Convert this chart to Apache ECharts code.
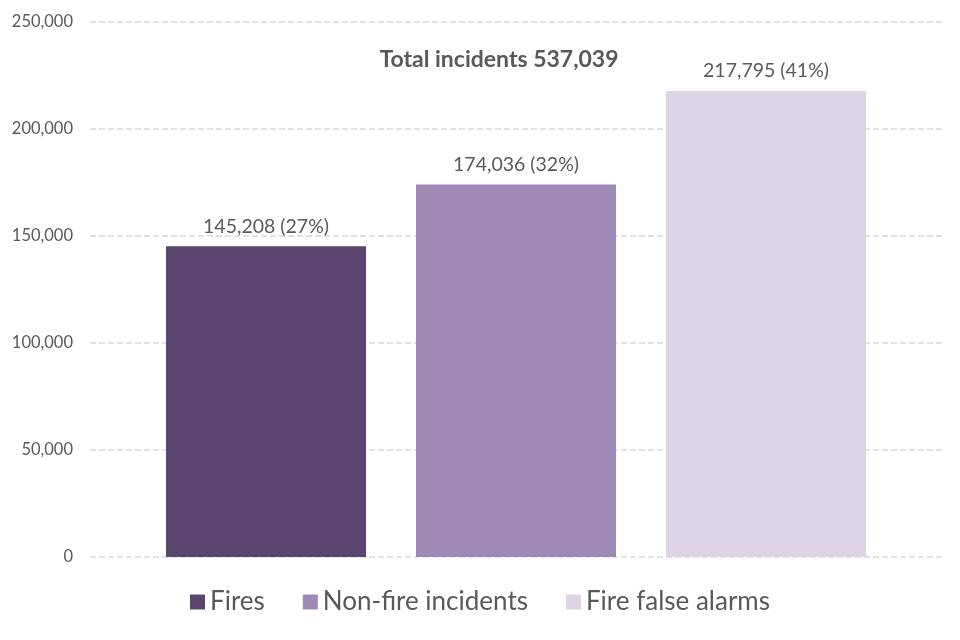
<!DOCTYPE html>
<html>
<head>
<meta charset="utf-8">
<script src="https://cdn.jsdelivr.net/npm/echarts@6/dist/echarts.min.js"></script>
<style>
html,body{margin:0;padding:0;background:#fff;}
#chart{width:960px;height:640px;}
</style>
</head>
<body>
<div id="chart"></div>
<script>
var seriesNames = ['Fires', 'Non-fire incidents', 'Fire false alarms'];
var seriesValues = [145208, 174036, 217795];
var seriesPercents = [27, 32, 41];
var seriesColors = ['#5a456e', '#9f89b7', '#ddd5e7'];
var totalLabel = 'Total incidents 537,039';
var yTicks = [0, 50000, 100000, 150000, 200000, 250000];

var FONT = 'Lato, "Open Sans", sans-serif';
var chart = echarts.init(document.getElementById('chart'));

function fmt(n) { return n.toLocaleString('en-GB'); }

var series = seriesNames.map(function (name, i) {
  return {
    name: name,
    type: 'bar',
    data: [seriesValues[i]],
    barWidth: 200,
    barGap: '25%',
    itemStyle: { color: seriesColors[i] },
    label: {
      show: true,
      position: 'top',
      distance: 10,
      color: '#595959',
      fontFamily: FONT,
      fontSize: 19.5,
      formatter: function () { return fmt(seriesValues[i]) + ' (' + seriesPercents[i] + '%)'; }
    }
  };
});

chart.setOption({
  animation: false,
  backgroundColor: '#fff',
  title: {
    text: totalLabel,
    left: 494,
    top: 43,
    textAlign: 'center',
    textStyle: { fontFamily: FONT, fontSize: 23, fontWeight: 'bold', color: '#595959' }
  },
  legend: {
    bottom: 20,
    left: 'center',
    itemWidth: 15,
    itemHeight: 15,
    itemGap: 38,
    icon: 'rect',
    textStyle: { fontFamily: FONT, fontSize: 26, color: '#595959' },
    data: seriesNames
  },
  grid: { left: 90, right: 18, top: 22, bottom: 83, containLabel: false },
  xAxis: {
    type: 'category',
    data: [''],
    axisLine: { show: false },
    axisTick: { show: false },
    axisLabel: { show: false }
  },
  yAxis: {
    type: 'value',
    min: yTicks[0],
    max: yTicks[yTicks.length - 1],
    interval: yTicks[1] - yTicks[0],
    axisLine: { show: false },
    axisTick: { show: false },
    axisLabel: {
      margin: 17,
      color: '#595959',
      fontFamily: FONT,
      fontSize: 16.5,
      formatter: function (v) { return fmt(v); }
    },
    splitLine: { lineStyle: { color: '#d9d9d9', type: [6, 3], width: 1.5 } }
  },
  series: series
});
</script>
</body>
</html>
